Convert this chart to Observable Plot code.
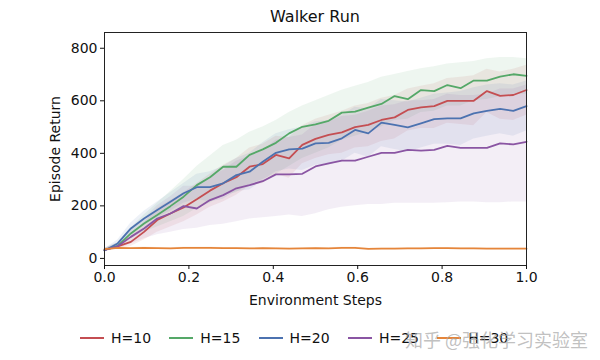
<!DOCTYPE html>
<html><head><meta charset="utf-8">
<script src="https://cdn.jsdelivr.net/npm/d3@7"></script>
<script src="https://cdn.jsdelivr.net/npm/@observablehq/plot@0.6"></script>
<style>
body{margin:0;background:#fff;font-family:"DejaVu Sans",sans-serif;}
#wrap{position:relative;width:600px;height:360px;overflow:hidden;}
#title{position:absolute;left:104px;width:422px;top:7px;text-align:center;font-size:16px;line-height:20px;color:#111;}
#chart{position:absolute;left:0;top:30px;}
#legend{position:absolute;left:0;top:328px;width:600px;height:20px;}
.item{position:absolute;top:0;height:20px;display:flex;align-items:center;font-size:14px;color:#111;}
.sw{width:24px;height:2px;margin-right:7px;}
#wm{position:absolute;left:405px;top:326px;font-family:"Noto Sans CJK SC",sans-serif;font-size:18px;color:rgba(165,165,165,0.7);white-space:nowrap;}
</style></head>
<body><div id="wrap"><div id="title">Walker Run</div><div id="chart"></div><div id="legend"></div><div id="wm">知乎 @强化学习实验室</div></div>
<script>
const steps = [0,0.03125,0.0625,0.09375,0.125,0.15625,0.1875,0.21875,0.25,0.28125,0.3125,0.34375,0.375,0.40625,0.4375,0.46875,0.5,0.53125,0.5625,0.59375,0.625,0.65625,0.6875,0.71875,0.75,0.78125,0.8125,0.84375,0.875,0.90625,0.9375,0.96875,1];
const seriesNames = ["H=10","H=15","H=20","H=25","H=30"];
const colors = ["#c44e52","#55a868","#4c72b0","#8a55a3","#e5853a"];

const h10 = [32,46,63,101,146,171,194,225,258,286,309,349,359,394,381,432,455,470,480,500,508,527,537,565,575,580,600,600,600,637,619,622,641];
const h10Lo = [26,37,45,70,100,120,140,165,195,215,240,275,285,320,305,360,380,395,400,420,425,445,455,485,495,495,515,510,505,555,530,525,545];
const h10Hi = [38,55,85,135,190,220,250,285,320,355,380,420,435,465,460,505,530,545,560,580,590,610,620,645,655,665,685,690,695,720,710,720,735];

const h15 = [32,48,95,133,165,199,235,279,309,349,349,394,415,440,476,501,510,524,555,559,574,588,618,606,641,637,660,648,677,677,692,701,695];
const h15Lo = [26,38,75,100,120,140,160,190,210,240,250,280,300,320,350,380,400,420,450,465,480,500,525,530,555,560,580,580,600,605,615,625,625];
const h15Hi = [38,60,115,165,210,255,300,350,390,430,450,480,500,525,555,580,600,620,640,655,670,690,700,712,722,730,740,745,750,760,765,765,760];

const h20 = [30,57,114,152,184,216,248,271,271,286,317,330,368,402,415,418,438,440,457,489,476,517,508,499,514,530,533,533,552,562,569,562,580];
const h20Lo = [24,45,95,125,155,180,210,225,215,225,255,260,295,330,340,335,355,355,370,400,385,425,415,405,420,435,435,430,455,465,475,465,485];
const h20Hi = [36,70,135,180,215,250,285,320,330,350,380,400,440,475,490,500,520,525,545,575,570,605,600,595,610,625,630,635,650,660,665,660,675];

const h25 = [32,46,82,114,152,171,199,190,222,241,267,279,294,320,320,322,350,362,372,372,387,402,402,413,410,413,428,421,421,421,438,434,444];
const h25Lo = [26,35,55,75,90,100,110,115,125,130,140,150,155,160,165,160,170,185,195,200,205,205,210,210,210,210,212,215,215,212,212,215,215];
const h25Hi = [38,60,110,150,200,235,275,275,310,335,370,390,410,450,460,470,510,520,540,545,560,580,585,600,600,605,625,620,620,625,645,645,660];

const h30 = [35,40,39,40,39,38,40,40,40,39,39,38,39,38,37,38,39,38,40,40,36,37,37,38,38,39,39,38,38,37,37,37,37];
const h30Lo = [32,37,36,37,36,35,37,37,37,36,36,35,36,35,34,35,36,35,37,37,33,34,34,35,35,36,36,35,35,34,34,34,34];
const h30Hi = [38,43,42,43,42,41,43,43,43,42,42,41,42,41,40,41,42,41,43,43,39,40,40,41,41,42,42,41,41,40,40,40,40];

const xTicks = [0,0.2,0.4,0.6,0.8,1.0];
const yTicks = [0,200,400,600,800];

const means = [h10,h15,h20,h25,h30];
const los = [h10Lo,h15Lo,h20Lo,h25Lo,h30Lo];
const his = [h10Hi,h15Hi,h20Hi,h25Hi,h30Hi];
const rows = [];
seriesNames.forEach((s,i)=>steps.forEach((x,j)=>rows.push({series:s,x,v:means[i][j],lo:los[i][j],hi:his[i][j]})));

const chart = Plot.plot({
  width:600, height:290,
  marginTop:2, marginBottom:55, marginLeft:104, marginRight:74,
  style:{fontFamily:"DejaVu Sans, sans-serif", fontSize:"14px", color:"#111", background:"#fff"},
  x:{domain:[0,1]},
  y:{domain:[-27,860]},
  color:{domain:seriesNames, range:colors},
  marks:[
    Plot.areaY(rows,{x:"x",y1:"lo",y2:"hi",fill:"series",fillOpacity:0.1,z:"series"}),
    Plot.lineY(rows,{x:"x",y:"v",stroke:"series",strokeWidth:1.8,z:"series"}),
    Plot.frame({stroke:"#222",strokeWidth:1}),
    Plot.axisX({ticks:xTicks,tickFormat:d3.format(".1f"),tickSize:4,tickPadding:3,label:"Environment Steps",labelAnchor:"center",labelArrow:"none",labelOffset:39,fontSize:14}),
    Plot.axisY({ticks:yTicks,tickSize:4,tickPadding:3,label:"Episode Return",labelAnchor:"center",labelArrow:"none",labelOffset:54,fontSize:14})
  ]
});
document.getElementById("chart").appendChild(chart);

const legend = document.getElementById("legend");
seriesNames.forEach((s,i)=>{
  const it=document.createElement("div");
  it.className="item";
  it.style.left=(80+i*89.3)+"px";
  const sw=document.createElement("div");
  sw.className="sw"; sw.style.background=colors[i];
  it.appendChild(sw);
  const t=document.createElement("span"); t.textContent=s;
  it.appendChild(t);
  legend.appendChild(it);
});
</script></body></html>
